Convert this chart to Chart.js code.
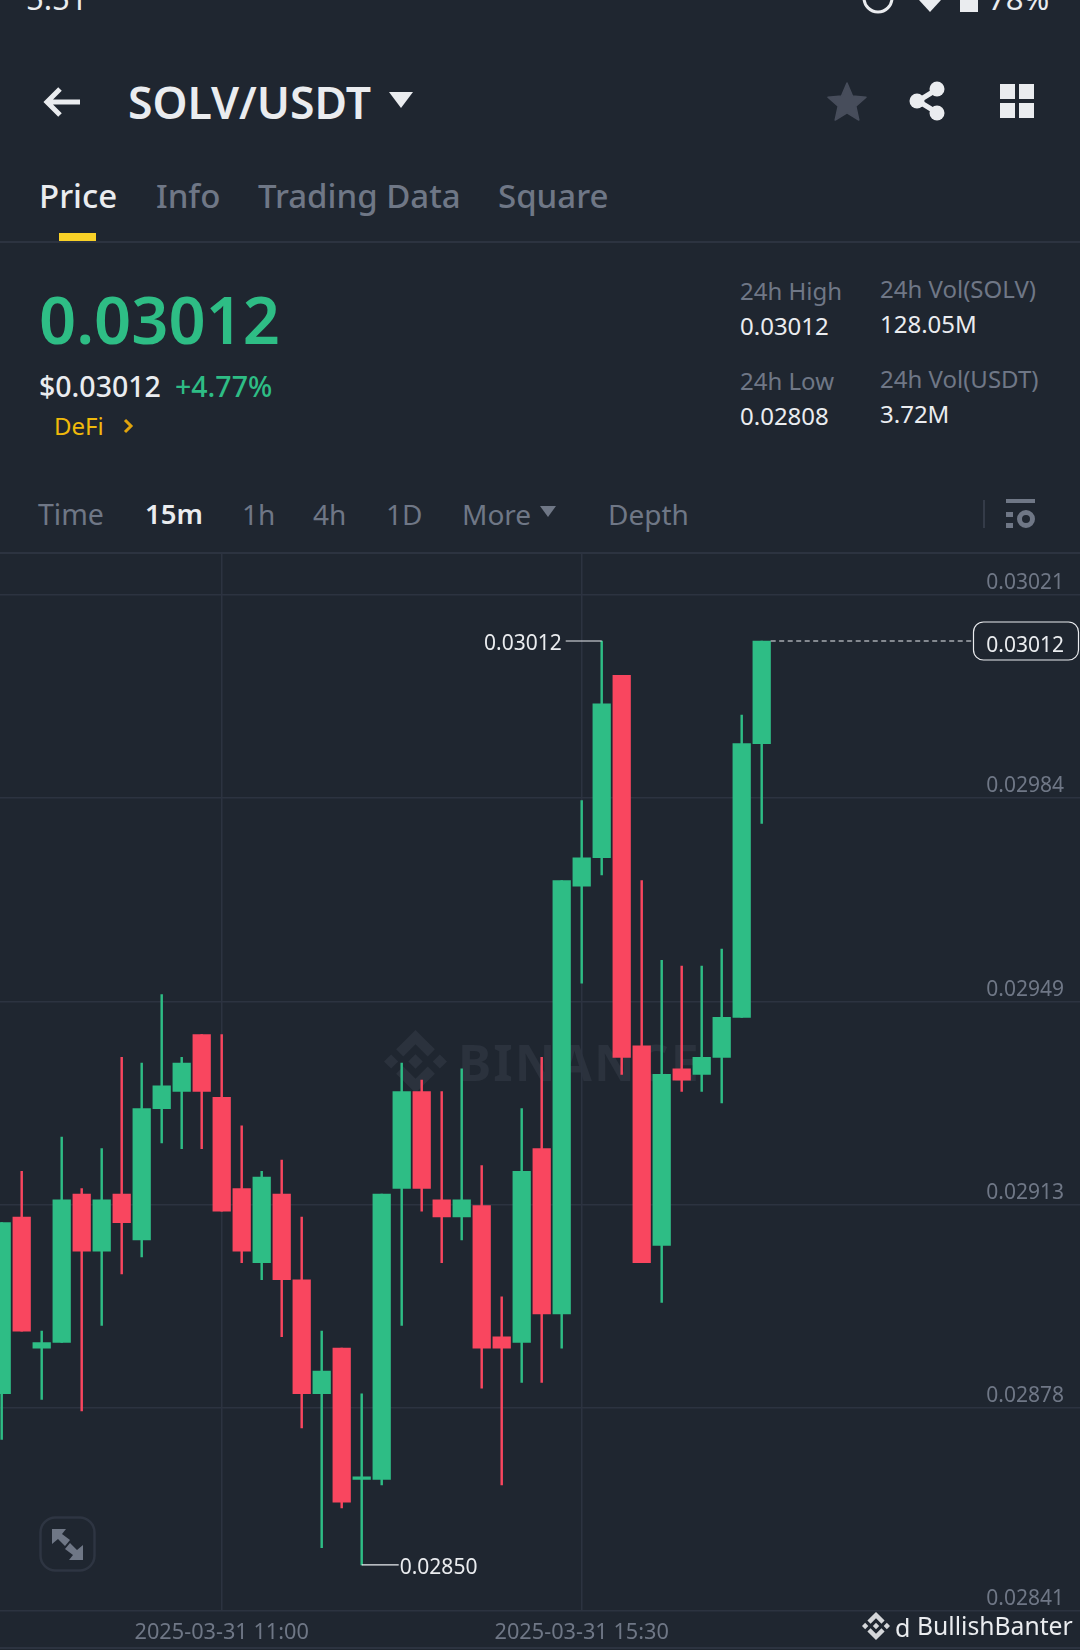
<!DOCTYPE html>
<html>
<head>
<meta charset="utf-8">
<title>SOLV/USDT</title>
<script src="https://cdn.jsdelivr.net/npm/chart.js@4/dist/chart.umd.min.js"></script>
<style>
    html, body { margin: 0; padding: 0; background: #1f2630; }
    body { position: relative; width: 1080px; height: 1650px; overflow: hidden; font-family: "Noto Sans", sans-serif; color: #eaecef; }
    .t { position: absolute; line-height: 1; white-space: nowrap; transform: translateY(-50%); }
    .grey { color: #6f7786; }
    .line { position: absolute; left: 0; width: 1080px; height: 1.5px; background: #2c3340; }
    svg { position: absolute; }
    #wrap { position: absolute; left: 0; top: 553px; width: 1080px; height: 1097px; }
</style>
</head>
<body>
<!-- status bar, cut off by the top of the picture -->
<div class="t" style="left:26px;top:-2px;font-size:31px">5:51</div>
<svg style="left:860px;top:-20px" width="36" height="36"><circle cx="18" cy="18" r="14" fill="none" stroke="#eaecef" stroke-width="3"/></svg>
<svg style="left:917px;top:0" width="26" height="13"><path d="M2 0H24L13 12Z" fill="#eaecef"/></svg>
<svg style="left:960px;top:0" width="18" height="13"><rect width="18" height="12" fill="#eaecef"/></svg>
<div class="t" style="left:988px;top:-2px;font-size:31px">78%</div>

<!-- title row -->
<svg style="left:42px;top:84px" width="42" height="36"><path d="M4 18H38M18 5L5 18L18 31" fill="none" stroke="#eaecef" stroke-width="5"/></svg>
<div class="t" style="left:128px;top:102px;font-size:44.5px;font-weight:600">SOLV/USDT</div>
<svg style="left:389px;top:92px" width="24" height="17"><path d="M0 0H24L12 16Z" fill="#eaecef"/></svg>
<svg style="left:827px;top:82px" width="40" height="40" viewBox="0 0 40 40"><path d="M20 1L25.5 14L39 15.2L28.8 24.2L31.8 38L20 30.8L8.2 38L11.2 24.2L1 15.2L14.5 14Z" fill="#474d5b" stroke="#474d5b" stroke-width="1.5" stroke-linejoin="round"/></svg>
<svg style="left:908px;top:81px" width="40" height="40"><path d="M28 9L10 20L28 31" fill="none" stroke="#eaecef" stroke-width="5"/><circle cx="29" cy="8" r="7.5" fill="#eaecef"/><circle cx="9" cy="20" r="7.5" fill="#eaecef"/><circle cx="29" cy="32" r="7.5" fill="#eaecef"/></svg>
<svg style="left:1000px;top:84px" width="35" height="35"><path d="M0 0H15V15H0ZM19 0H34V15H19ZM0 19H15V34H0ZM19 19H34V34H19Z" fill="#eaecef"/></svg>

<!-- tabs -->
<div class="t" style="left:39px;top:195px;font-size:33px;font-weight:500">Price</div>
<div class="t grey" style="left:156px;top:195px;font-size:33px;font-weight:500">Info</div>
<div class="t grey" style="left:258px;top:195px;font-size:33px;font-weight:500">Trading Data</div>
<div class="t grey" style="left:498px;top:195px;font-size:33px;font-weight:500">Square</div>
<div style="position:absolute;left:59px;top:233px;width:37px;height:8px;background:#f9d127"></div>
<div class="line" style="top:241px"></div>

<!-- ticker block -->
<div class="t" style="left:39px;top:319px;font-size:65px;font-weight:600;color:#2ebd85">0.03012</div>
<div class="t" style="left:39px;top:386px;font-size:28.5px;font-weight:500">$0.03012</div>
<div class="t" style="left:175px;top:386px;font-size:28.5px;font-weight:500;color:#2ebd85">+4.77%</div>
<div class="t" style="left:54px;top:426px;font-size:24px;color:#f0b90b">DeFi</div>
<svg style="left:123px;top:418px" width="12" height="16"><path d="M2 2L8 8L2 14" fill="none" stroke="#e0a30c" stroke-width="3"/></svg>
<div class="t grey" style="left:740px;top:291px;font-size:24px">24h High</div>
<div class="t" style="left:740px;top:326px;font-size:24px">0.03012</div>
<div class="t grey" style="left:740px;top:381px;font-size:24px">24h Low</div>
<div class="t" style="left:740px;top:416px;font-size:24px">0.02808</div>
<div class="t grey" style="left:880px;top:289px;font-size:24px">24h Vol(SOLV)</div>
<div class="t" style="left:880px;top:324px;font-size:24px">128.05M</div>
<div class="t grey" style="left:880px;top:379px;font-size:24px">24h Vol(USDT)</div>
<div class="t" style="left:880px;top:414px;font-size:24px">3.72M</div>

<!-- interval row -->
<div class="t grey" style="left:38px;top:514px;font-size:28.5px">Time</div>
<div class="t" style="left:145px;top:514px;font-size:27.5px;font-weight:600">15m</div>
<div class="t grey" style="left:242px;top:514px;font-size:28px">1h</div>
<div class="t grey" style="left:313px;top:514px;font-size:28px">4h</div>
<div class="t grey" style="left:386px;top:514px;font-size:28px">1D</div>
<div class="t grey" style="left:462px;top:514px;font-size:28px">More</div>
<svg style="left:540px;top:506px" width="16" height="12"><path d="M0 0H16L8 11Z" fill="#6f7786"/></svg>
<div class="t grey" style="left:608px;top:514px;font-size:28px">Depth</div>
<div style="position:absolute;left:983px;top:500px;width:1.5px;height:28px;background:#343b48"></div>
<svg style="left:1005px;top:498px" width="32" height="34"><path d="M1 1H30V5H1ZM1 14H8V19H1ZM1 25H8V30H1Z" fill="#6f7786"/><circle cx="21" cy="21" r="6.5" fill="none" stroke="#6f7786" stroke-width="5"/></svg>

<div class="line" style="top:552px"></div>

<!-- faint exchange mark behind the candles -->
<svg style="left:384px;top:1030px" width="63" height="63" viewBox="0 0 126.61 126.61"><path d="M38.73 53.2l24.59-24.58 24.6 24.6 14.3-14.31L63.32 0l-38.9 38.9zM0 63.31L14.3 49l14.31 14.31-14.31 14.3zM38.73 73.41l24.59 24.59 24.6-24.6 14.31 14.29-38.9 38.91-38.91-38.88zM98 63.31L112.3 49l14.31 14.3-14.31 14.32zM77.83 63.3L63.32 48.78 52.59 59.51l-1.24 1.23-2.54 2.54 14.51 14.5 14.5-14.47z" fill="#2b323d"/></svg>
<div class="t" style="left:458px;top:1062px;font-size:50px;font-weight:700;letter-spacing:2px;color:#2b323d">BINANCE</div>

<div id="wrap"><canvas id="out" width="1080" height="1097"></canvas></div>

<!-- expand button -->
<svg style="left:39px;top:1516px" width="57" height="56"><rect x="1.5" y="1.5" width="54" height="53" rx="15" fill="none" stroke="#2e3542" stroke-width="2.5"/><path d="M13 13H27L23 18L31 24L26 30L19 23L13 28ZM44 44H30L34 39L26 33L31 27L38 34L44 29Z" fill="#6f7786"/></svg>

<!-- bottom strip -->
<div class="line" style="top:1647px"></div>
<svg style="left:862px;top:1612px" width="28" height="28" viewBox="0 0 126.61 126.61"><path d="M38.73 53.2l24.59-24.58 24.6 24.6 14.3-14.31L63.32 0l-38.9 38.9zM0 63.31L14.3 49l14.31 14.31-14.31 14.3zM38.73 73.41l24.59 24.59 24.6-24.6 14.31 14.29-38.9 38.91-38.91-38.88zM98 63.31L112.3 49l14.31 14.3-14.31 14.32zM77.83 63.3L63.32 48.78 52.59 59.51l-1.24 1.23-2.54 2.54 14.51 14.5 14.5-14.47z" fill="#d5d7da"/></svg>
<div class="t" style="left:895px;top:1627px;font-size:25px;color:#eaecef">d</div>
<div class="t" style="left:917px;top:1626px;font-size:24.7px;color:#eaecef">BullishBanter</div>

<script>
// 15 minute candles, first one opens at 08:15
const candleTimes = ["08:15", "08:30", "08:45", "09:00", "09:15", "09:30", "09:45", "10:00", "10:15", "10:30", "10:45",
    "11:00", "11:15", "11:30", "11:45", "12:00", "12:15", "12:30", "12:45", "13:00", "13:15", "13:30", "13:45",
    "14:00", "14:15", "14:30", "14:45", "15:00", "15:15", "15:30", "15:45", "16:00", "16:15", "16:30", "16:45",
    "17:00", "17:15", "17:30", "17:45"];
const opens = [0.02880, 0.02911, 0.02888, 0.02889, 0.02915, 0.02905, 0.02915, 0.02907, 0.02930, 0.02933, 0.02943,
    0.02932, 0.02916, 0.02903, 0.02915, 0.02900, 0.02880, 0.02888, 0.02865, 0.02865, 0.02916, 0.02933, 0.02914,
    0.02911, 0.02913, 0.02890, 0.02889, 0.02923, 0.02894, 0.02969, 0.02974, 0.03006, 0.02941, 0.02906, 0.02937,
    0.02936, 0.02939, 0.02946, 0.02994];
const closes = [0.02910, 0.02891, 0.02889, 0.02914, 0.02905, 0.02914, 0.02910, 0.02930, 0.02934, 0.02938, 0.02933,
    0.02912, 0.02905, 0.02918, 0.02900, 0.02880, 0.02884, 0.02861, 0.02865, 0.02915, 0.02933, 0.02916, 0.02911,
    0.02914, 0.02888, 0.02888, 0.02919, 0.02894, 0.02970, 0.02974, 0.03001, 0.02939, 0.02903, 0.02936, 0.02935,
    0.02939, 0.02946, 0.02994, 0.03012];
const highs = [0.02910, 0.02919, 0.02891, 0.02925, 0.02916, 0.02923, 0.02939, 0.02938, 0.02950, 0.02939, 0.02943,
    0.02943, 0.02927, 0.02919, 0.02921, 0.02911, 0.02891, 0.02888, 0.02880, 0.02915, 0.02938, 0.02935, 0.02933,
    0.02937, 0.02920, 0.02897, 0.02930, 0.02939, 0.02970, 0.02984, 0.03012, 0.03006, 0.02970, 0.02956, 0.02955,
    0.02955, 0.02958, 0.02999, 0.03012];
const lows = [0.02872, 0.02891, 0.02879, 0.02889, 0.02877, 0.02892, 0.02901, 0.02904, 0.02924, 0.02923, 0.02923,
    0.02912, 0.02903, 0.02900, 0.02890, 0.02874, 0.02853, 0.02860, 0.02850, 0.02864, 0.02892, 0.02912, 0.02903,
    0.02907, 0.02881, 0.02864, 0.02882, 0.02882, 0.02888, 0.02952, 0.02971, 0.02936, 0.02903, 0.02896, 0.02933,
    0.02933, 0.02931, 0.02946, 0.02980];

const yGridValues = [0.030201, 0.029845, 0.029488, 0.029132, 0.028776, 0.028420];
const yTickLabels = ["0.03021", "0.02984", "0.02949", "0.02913", "0.02878", "0.02841"];
const xTickIndexes = [11, 29];
const xTickLabels = ["2025-03-31 11:00", "2025-03-31 15:30"];

const highIndex = 30;
const lowIndex = 18;
const lastIndex = 38;

const GREEN = "#2ebd85";
const RED = "#f9465f";
const GRID = "#2c3340";
const candleColors = opens.map((open, i) => (closes[i] >= open ? GREEN : RED));

// high, low and last price markers sit on top of the candles
const priceMarkers = {
    id: "priceMarkers",
    afterDatasetsDraw(chart) {
        const { ctx, scales: { x, y } } = chart;
        const white = "#eaecef";
        ctx.save();
        ctx.font = "21px 'Noto Sans'";
        ctx.strokeStyle = white;
        ctx.fillStyle = white;
        ctx.lineWidth = 1.2;
        ctx.textBaseline = "middle";

        const highX = x.getPixelForValue(highIndex);
        const highY = y.getPixelForValue(highs[highIndex]);
        ctx.beginPath();
        ctx.moveTo(highX, highY);
        ctx.lineTo(highX - 36, highY);
        ctx.stroke();
        ctx.textAlign = "right";
        ctx.fillText(highs[highIndex].toFixed(5), highX - 40, highY + 3);

        const lowX = x.getPixelForValue(lowIndex);
        const lowY = y.getPixelForValue(lows[lowIndex]);
        ctx.beginPath();
        ctx.moveTo(lowX, lowY);
        ctx.lineTo(lowX + 37, lowY);
        ctx.stroke();
        ctx.textAlign = "left";
        ctx.fillText(lows[lowIndex].toFixed(5), lowX + 38, lowY + 3);

        const lastX = x.getPixelForValue(lastIndex);
        const lastY = y.getPixelForValue(closes[lastIndex]);
        ctx.setLineDash([5, 3.5]);
        ctx.beginPath();
        ctx.moveTo(lastX + 9, lastY);
        ctx.lineTo(973, lastY);
        ctx.stroke();
        ctx.setLineDash([]);
        ctx.beginPath();
        ctx.roundRect(973.5, lastY - 19, 105, 38, 10);
        ctx.fillStyle = "#1f2630";
        ctx.fill();
        ctx.stroke();
        ctx.fillStyle = white;
        ctx.textAlign = "right";
        ctx.fillText(closes[lastIndex].toFixed(5), 1064, lastY + 5);
        ctx.restore();
    }
};

const candleChart = new Chart(document.getElementById("out").getContext("2d"), {
    type: "bar",
    data: {
        datasets: [
            {
                label: "body",
                data: candleTimes.map((t, i) => ({ x: i, y: [opens[i], closes[i]] })),
                backgroundColor: candleColors,
                barThickness: 17.6,
                minBarLength: 2.5,
                grouped: false,
                borderWidth: 0
            },
            {
                label: "wick",
                data: candleTimes.map((t, i) => ({ x: i, y: [lows[i], highs[i]] })),
                backgroundColor: candleColors,
                barThickness: 1.8,
                grouped: false,
                borderWidth: 0
            }
        ]
    },
    options: {
        responsive: false,
        animation: false,
        devicePixelRatio: 1,
        layout: { padding: 0 },
        plugins: { legend: { display: false }, tooltip: { enabled: false } },
        scales: {
            x: {
                type: "linear",
                offset: false,
                min: -0.085,
                max: 53.915,
                border: { display: false },
                grid: { color: GRID, lineWidth: 1.5, drawTicks: false, offset: false },
                afterBuildTicks(scale) {
                    scale.ticks = xTickIndexes.map(v => ({ value: v }));
                },
                afterFit(scale) {
                    scale.height = 39.5;
                    scale.paddingLeft = 0;
                    scale.paddingRight = 0;
                },
                ticks: {
                    autoSkip: false,
                    maxRotation: 0,
                    padding: 9,
                    color: "#6f7786",
                    font: { family: "'Noto Sans'", size: 21.7 },
                    callback: (value, index) => xTickLabels[index]
                }
            },
            y: {
                position: "right",
                min: 0.028420,
                max: 0.0302743,
                bounds: "data",
                border: { display: false },
                grid: { color: GRID, lineWidth: 1.5, drawTicks: false },
                afterBuildTicks(scale) {
                    scale.ticks = yGridValues.map(v => ({ value: v }));
                },
                afterFit(scale) {
                    scale.width = 0;
                    scale.paddingTop = 0;
                    scale.paddingBottom = 0;
                },
                ticks: {
                    autoSkip: false,
                    mirror: true,
                    crossAlign: "near",
                    padding: -16,
                    color: "#6f7786",
                    font: { family: "'Noto Sans'", size: 21, lineHeight: 1.08 },
                    // empty second line lifts the label above its grid line
                    callback: (value, index) => [yTickLabels[index], ""]
                }
            }
        }
    },
    plugins: [priceMarkers]
});
</script>
</body>
</html>
